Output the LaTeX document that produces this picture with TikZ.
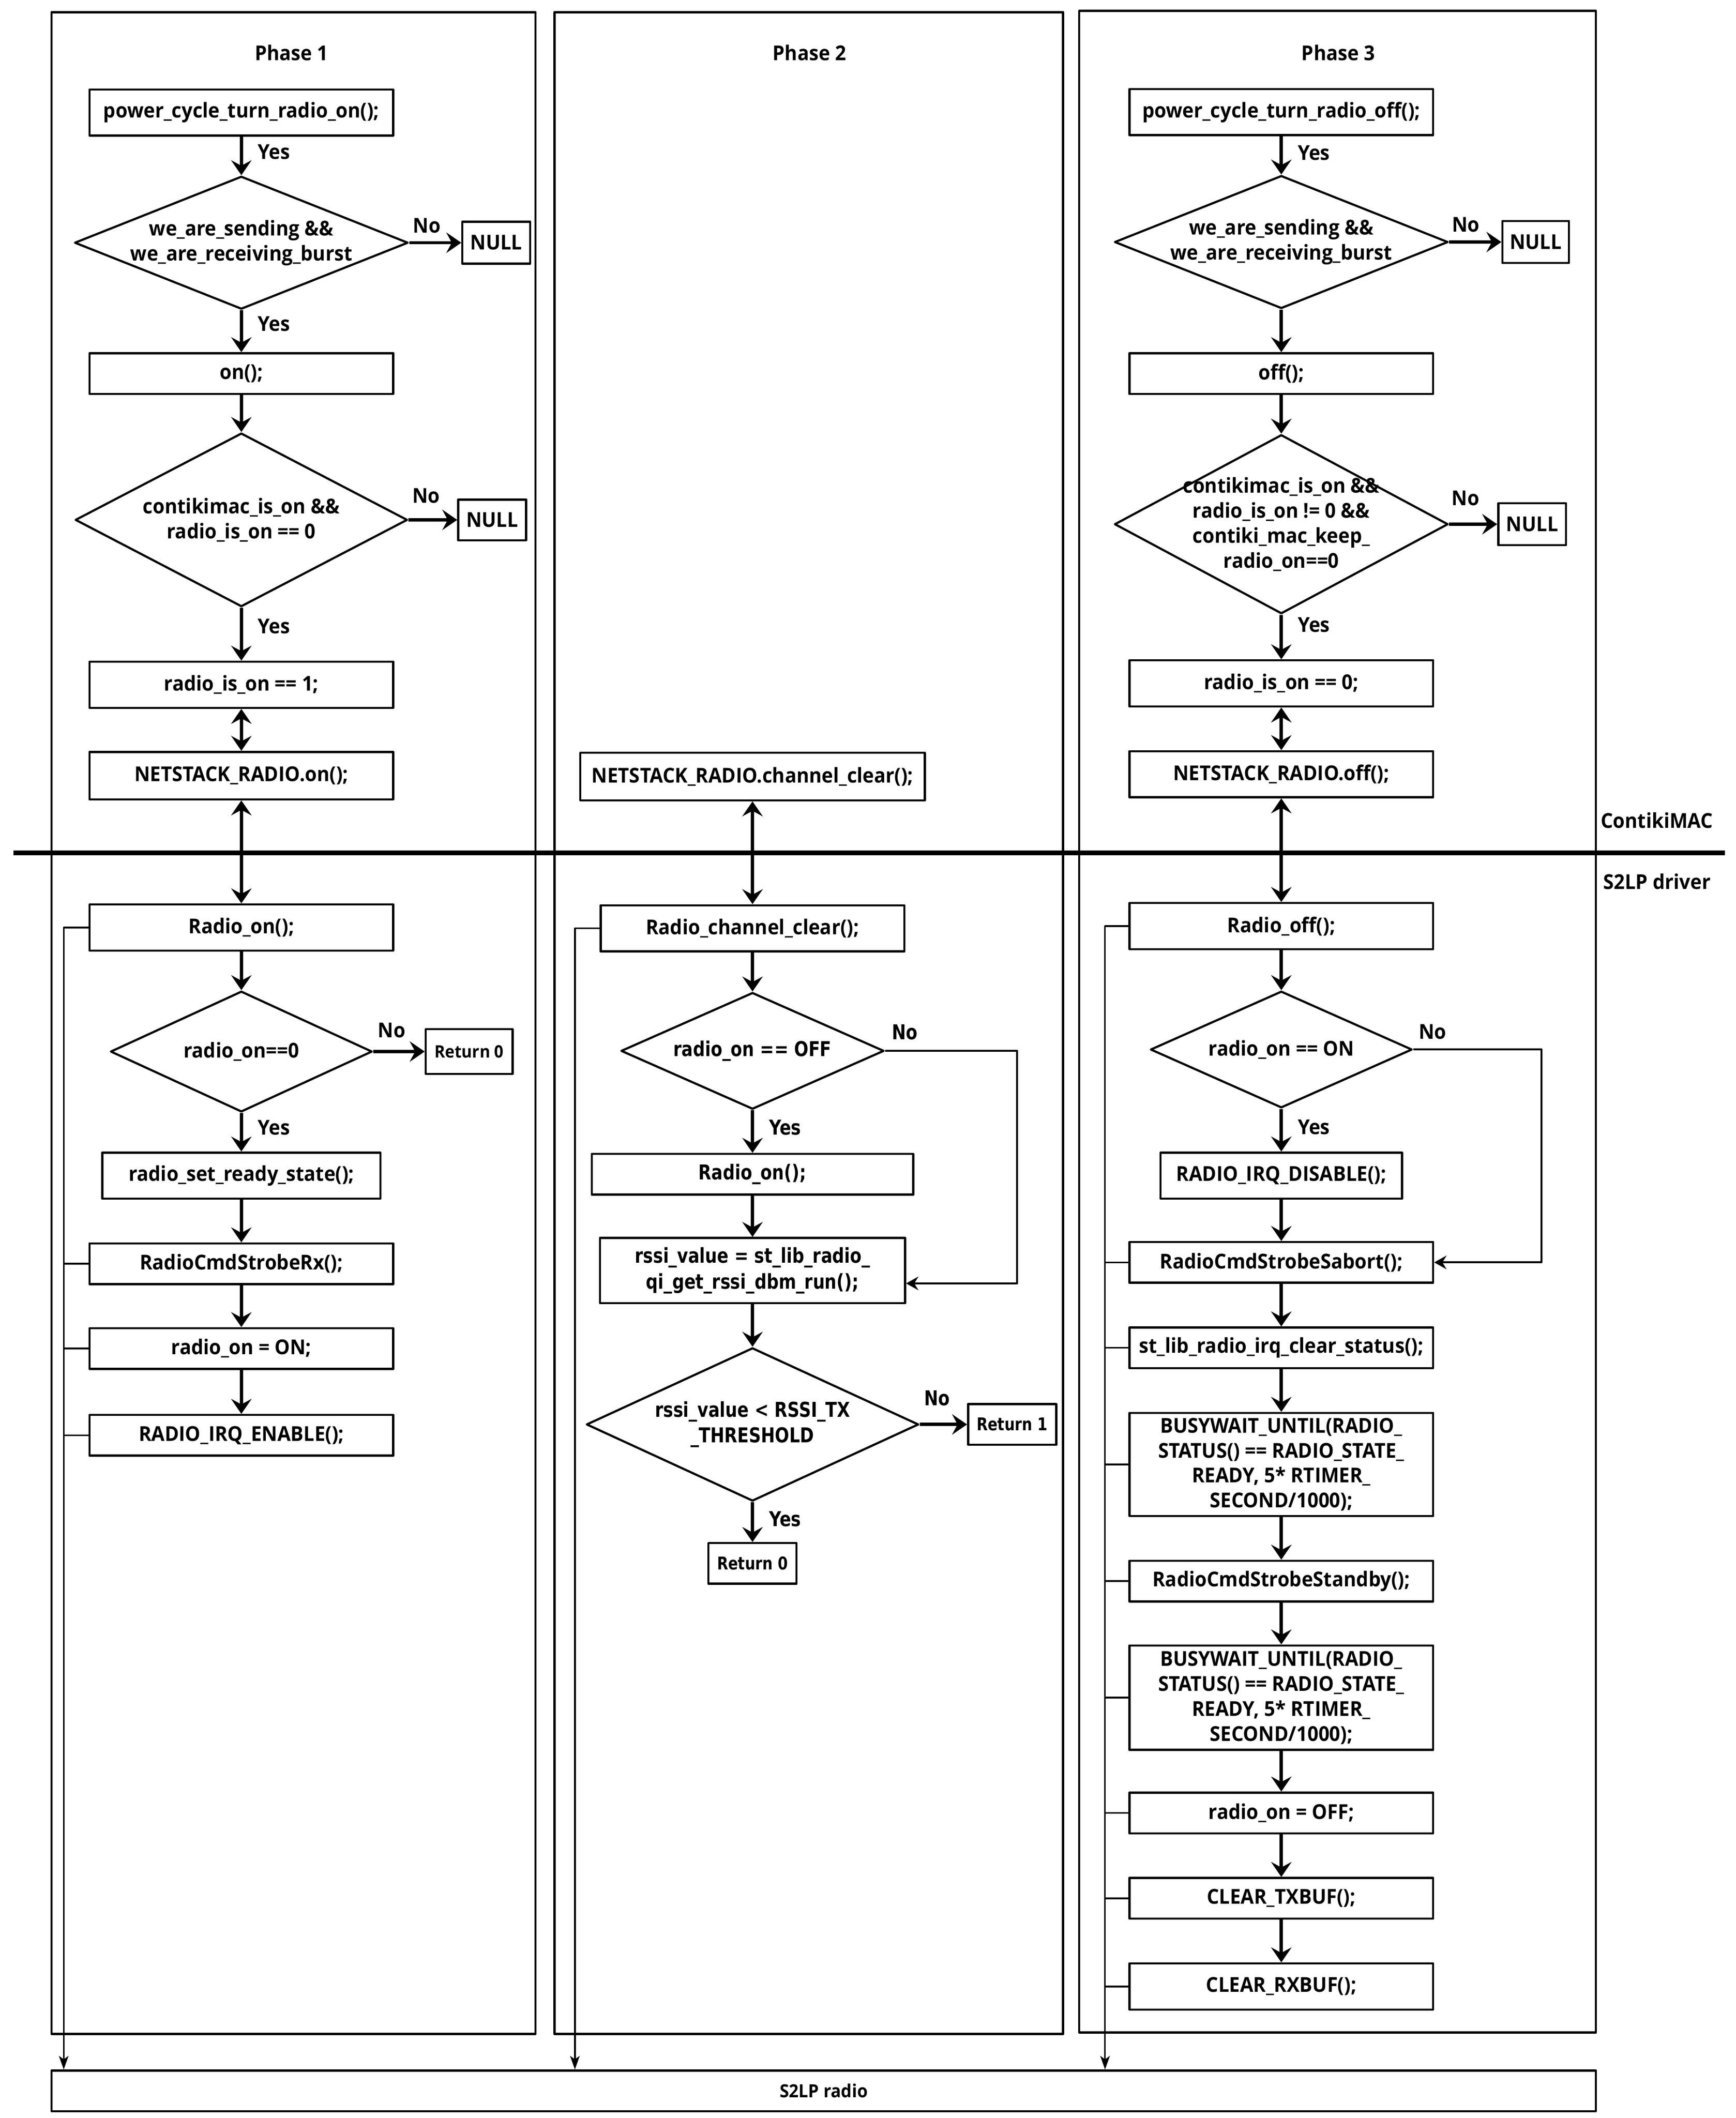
\documentclass[tikz,border=0pt]{standalone}
\usepackage{fontspec}
\setmainfont{Open Sans}[FakeStretch=0.94]
\newfontfamily\widefont{DejaVu Sans}[FakeStretch=0.82]
\usetikzlibrary{shapes.geometric,arrows.meta}
\begin{document}
\begin{tikzpicture}[x=0.2mm,y=-0.2mm,line join=round,
  font=\bfseries\fontsize{8.6}{10.5}\selectfont,
  >={Stealth[length=2.2mm,width=3mm,inset=0.8mm]},
  box/.style={draw,line width=0.9pt,minimum width=44.8mm,minimum height=6mm,inner sep=1pt,align=center},
  cond/.style={draw,diamond,line width=0.9pt,inner sep=0pt},
  txt/.style={align=center,inner sep=0pt},
  wide/.style={font=\widefont\bfseries\fontsize{8.6}{10.8}\selectfont},
  small/.style={font=\bfseries\fontsize{7.2}{9}\selectfont},
  flow/.style={->,line width=1.4pt},
  twoway/.style={<->,line width=1.4pt},
  back/.style={line width=0.7pt},
  ret/.style={line width=0.8pt,-{Stealth[length=1.8mm,width=2mm,inset=0.6mm]}},
  tobus/.style={line width=0.7pt,-{Stealth[length=2mm,width=1.4mm,inset=0.5mm]}},
  yes/.style={right,pos=0.4,xshift=2.2mm,inner sep=0pt},
  no/.style={above,inner sep=0pt,yshift=1.2mm},
  every label/.style={txt}]
 \useasboundingbox (0,0) rectangle (1280,1562);
 % panels and layers
 \draw[line width=0.9pt] (38,9) rectangle (395,1500);
 \draw[line width=0.9pt] (409,9) rectangle (784,1500);
 \draw[line width=0.9pt] (796,8) rectangle (1177,1499);
 \draw[line width=2pt] (10,629) -- (1272,629);
 \node[txt] (cmac) at (1222,605) {ContikiMAC};
 \node[txt] (drv) at (1222,650) {S2LP driver};
 \node[draw,line width=0.9pt,minimum width=227.8mm,minimum height=6mm,
   font=\bfseries\fontsize{7.6}{9}\selectfont] (radio) at (607.5,1542) {S2LP radio};

 % phase 1
 \node[txt] (ph1) at (215,39) {Phase 1};
 \node[box,minimum height=6.8mm] (p1a) at (178,83) {power\_cycle\_turn\_radio\_on();};
 \node[cond,minimum width=49.2mm,minimum height=19.6mm,
   label=center:{we\_are\_sending \&\&\\we\_are\_receiving\_burst}] (p1d1) at (178,179) {};
 \node[box,minimum width=10mm,minimum height=6.2mm] (p1n1) at (366,179) {NULL};
 \node[box] (p1b) at (178,275.5) {on();};
 \node[cond,minimum width=49mm,minimum height=25.6mm,
   label=center:{contikimac\_is\_on \&\&\\radio\_is\_on == 0}] (p1d2) at (178,383.4) {};
 \node[box,minimum width=10mm,minimum height=6mm] (p1n2) at (363,383.4) {NULL};
 \node[box,minimum height=6.8mm] (p1c) at (178,505) {radio\_is\_on == 1;};
 \node[box,minimum height=7mm] (p1e) at (178,572) {NETSTACK\_RADIO.on();};
 \node[box,minimum height=6.8mm] (p1f) at (178,684) {Radio\_on();};
 \node[cond,minimum width=38.6mm,minimum height=17.8mm,label=center:{radio\_on==0}] (p1d3) at (178,775.5) {};
 \node[box,small,minimum width=12.8mm,minimum height=6.6mm] (p1r) at (346,775.5) {Return 0};
 \node[box,minimum width=41mm,minimum height=6.8mm] (p1g) at (178,867) {radio\_set\_ready\_state();};
 \node[box] (p1h) at (178,932) {RadioCmdStrobeRx();};
 \node[box] (p1i) at (178,994.5) {radio\_on = ON;};
 \node[box] (p1j) at (178,1058.5) {RADIO\_IRQ\_ENABLE();};
 \draw[flow] (p1a) -- node[yes] {Yes} (p1d1);
 \draw[flow] (p1d1) -- node[no,pos=0.34] {No} (p1n1);
 \draw[flow] (p1d1) -- node[yes,pos=0.33] {Yes} (p1b);
 \draw[flow] (p1b) -- (p1d2);
 \draw[flow] (p1d2) -- node[no,pos=0.36,yshift=1mm] {No} (p1n2);
 \draw[flow] (p1d2) -- node[yes,pos=0.35] {Yes} (p1c);
 \draw[twoway] (p1c) -- (p1e);
 \draw[twoway] (p1e) -- (p1f);
 \draw[flow] (p1f) -- (p1d3);
 \draw[flow] (p1d3) -- node[no,pos=0.36,yshift=0.6mm] {No} (p1r);
 \draw[flow] (p1d3) -- node[yes,pos=0.38] {Yes} (p1g);
 \draw[flow] (p1g) -- (p1h);
 \draw[flow] (p1h) -- (p1i);
 \draw[flow] (p1i) -- (p1j);
 \coordinate (bus1) at (47,0);
 \draw[tobus] (p1f.west) -| (bus1 |- radio.north);
 \foreach \b in {p1h,p1i,p1j}
 \draw[back] (\b.west) -- (\b.west -| bus1);

 % phase 2
 \node[txt] (ph2) at (597,39) {Phase 2};
 \node[box,minimum width=50.8mm,minimum height=7mm] (p2a) at (555,572.7) {NETSTACK\_RADIO.channel\_clear();};
 \node[box,minimum height=6.8mm] (p2b) at (555,684.6) {Radio\_channel\_clear();};
 \node[cond,minimum width=38.8mm,minimum height=17.2mm,
   label={[wide]center:{radio\_on == OFF}}] (p2d1) at (555,775) {};
 \node[box,wide,minimum width=47.4mm] (p2c) at (555,866) {Radio\_on();};
 \node[box,wide,minimum width=45mm,minimum height=9.6mm] (p2e) at (555,937) {rssi\_value = st\_lib\_radio\_\\qi\_get\_rssi\_dbm\_run();};
 \node[cond,minimum width=49mm,minimum height=22.6mm,
   label={[wide]center:{rssi\_value < RSSI\_TX\\\_THRESHOLD}}] (p2d2) at (555,1050.5) {};
 \node[box,wide,font=\widefont\bfseries\fontsize{7.4}{9}\selectfont,minimum width=13mm] (p2r1) at (746.5,1050.5) {Return 1};
 \node[box,wide,font=\widefont\bfseries\fontsize{7.4}{9}\selectfont,minimum width=13mm] (p2r0) at (555,1153) {Return 0};
 \draw[twoway] (p2a) -- (p2b);
 \draw[flow] (p2b) -- (p2d1);
 \draw[flow] (p2d1) -- node[yes,wide,pos=0.41] {Yes} (p2c);
 \draw[flow] (p2c) -- (p2e);
 \draw[flow] (p2e) -- (p2d2);
 \draw[flow] (p2d2) -- node[no,wide,pos=0.37,yshift=1.3mm] {No} (p2r1);
 \draw[flow] (p2d2) -- node[yes,wide,pos=0.43] {Yes} (p2r0);
 \coordinate (p2turn) at (750,775);
 \draw[ret] (p2d1.east) -- node[no,wide,pos=0.15,yshift=0.3mm] {No} (p2turn) |- ([yshift=-1.9mm]p2e.east);
 \coordinate (bus2) at (424,0);
 \draw[tobus] (p2b.west) -| (bus2 |- radio.north);

 % phase 3
 \node[txt] (ph3) at (987,39) {Phase 3};
 \node[box,minimum height=6.8mm] (p3a) at (945,82.7) {power\_cycle\_turn\_radio\_off();};
 \node[cond,minimum width=49.2mm,minimum height=19.6mm,
   label=center:{we\_are\_sending \&\&\\we\_are\_receiving\_burst}] (p3d1) at (945,178.5) {};
 \node[box,minimum width=9.8mm,minimum height=6.2mm] (p3n1) at (1132.6,178.5) {NULL};
 \node[box] (p3b) at (945,275.5) {off();};
 \node[cond,minimum width=49.2mm,minimum height=26.4mm,
   label=center:{contikimac\_is\_on \&\&\\radio\_is\_on != 0 \&\&\\contiki\_mac\_keep\_\\radio\_on==0}] (p3d2) at (945,386.6) {};
 \node[box,minimum width=10mm,minimum height=6.2mm] (p3n2) at (1130,386.6) {NULL};
 \node[box,minimum height=6.8mm] (p3c) at (945,504) {radio\_is\_on == 0;};
 \node[box,minimum height=6.8mm] (p3e) at (945,571) {NETSTACK\_RADIO.off();};
 \node[box,minimum height=6.8mm] (p3f) at (945,683) {Radio\_off();};
 \node[cond,minimum width=38.6mm,minimum height=17.2mm,label=center:{radio\_on == ON}] (p3d3) at (945,774) {};
 \node[box,minimum width=35.6mm,minimum height=6.8mm] (p3g) at (945,867) {RADIO\_IRQ\_DISABLE();};
 \node[box] (p3h) at (945,931) {RadioCmdStrobeSabort();};
 \node[box] (p3i) at (945,994) {st\_lib\_radio\_irq\_clear\_status();};
 \node[box,minimum height=15.2mm] (p3j) at (945,1080) {BUSYWAIT\_UNTIL(RADIO\_\\STATUS() == RADIO\_STATE\_\\READY, 5* RTIMER\_\\SECOND/1000);};
 \node[box] (p3k) at (945,1166) {RadioCmdStrobeStandby();};
 \node[box,minimum height=15.4mm] (p3l) at (945,1252) {BUSYWAIT\_UNTIL(RADIO\_\\STATUS() == RADIO\_STATE\_\\READY, 5* RTIMER\_\\SECOND/1000);};
 \node[box] (p3m) at (945,1337) {radio\_on = OFF;};
 \node[box] (p3n) at (945,1400) {CLEAR\_TXBUF();};
 \node[box,minimum height=6.8mm] (p3o) at (945,1465) {CLEAR\_RXBUF();};
 \draw[flow] (p3a) -- node[yes,pos=0.43] {Yes} (p3d1);
 \draw[flow] (p3d1) -- node[no,pos=0.32] {No} (p3n1);
 \draw[flow] (p3d1) -- (p3b);
 \draw[flow] (p3b) -- (p3d2);
 \draw[flow] (p3d2) -- node[no,pos=0.34,yshift=1.3mm] {No} (p3n2);
 \draw[flow] (p3d2) -- node[yes,pos=0.23] {Yes} (p3c);
 \draw[twoway] (p3c) -- (p3e);
 \draw[twoway] (p3e) -- (p3f);
 \draw[flow] (p3f) -- (p3d3);
 \draw[flow] (p3d3) -- node[yes,pos=0.43] {Yes} (p3g);
 \draw[flow] (p3g) -- (p3h);
 \foreach \a/\b in {p3h/p3i,p3i/p3j,p3j/p3k,p3k/p3l,p3l/p3m,p3m/p3n,p3n/p3o}
 \draw[flow] (\a) -- (\b);
 \coordinate (p3turn) at (1137,774);
 \draw[ret] (p3d3.east) -- node[no,pos=0.15,yshift=0.2mm] {No} (p3turn) |- (p3h.east);
 \coordinate (bus3) at (815,0);
 \draw[tobus] (p3f.west) -| (bus3 |- radio.north);
 \foreach \b in {p3h,p3i,p3j,p3k,p3l,p3m,p3n,p3o}
 \draw[back] (\b.west) -- (\b.west -| bus3);
\end{tikzpicture}
\end{document}
